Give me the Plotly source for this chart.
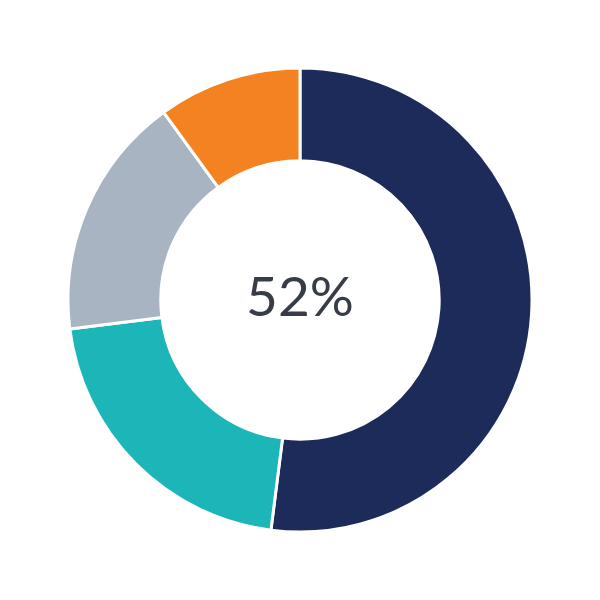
import plotly.graph_objects as go

labels = ["A", "B", "C", "D"]
values = [52, 21, 17, 10]
colors = ["#1c2b5a", "#1cb5b8", "#a9b4c2", "#f58220"]
center_text = "52%"

R = 232
cx, cy = 292, 308  # center in figure px (x from left, y from bottom); page body adds 8px
fig = go.Figure(go.Pie(
    labels=labels, values=values, hole=0.6, sort=False,
    direction="clockwise", rotation=0,
    marker=dict(colors=colors, line=dict(color="white", width=3)),
    textinfo="none", hoverinfo="none",
    domain=dict(x=[(cx - R) / 600, (cx + R) / 600], y=[(cy - R) / 600, (cy + R) / 600]),
))
fig.add_annotation(text=center_text, x=cx / 600, y=(cy + 5) / 600, xref="paper", yref="paper",
                   showarrow=False, font=dict(family="Lato", size=55, color="#363d47"))
fig.update_layout(width=600, height=600, margin=dict(l=0, r=0, t=0, b=0),
                  showlegend=False, paper_bgcolor="white", plot_bgcolor="white")
fig.write_html("out.html")
